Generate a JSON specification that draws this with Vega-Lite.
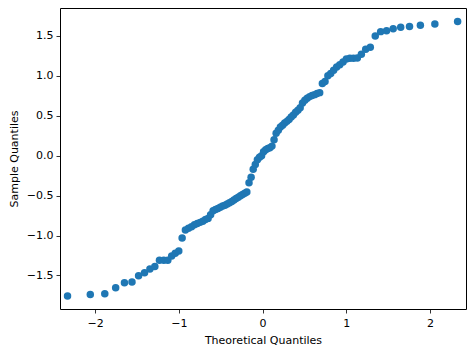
{
  "$schema": "https://vega.github.io/schema/vega-lite/v6.json",
  "autosize": "none",
  "width": 406,
  "height": 301,
  "padding": {"left": 60, "top": 8, "right": 8, "bottom": 44},
  "background": "white",
  "config": {
    "view": {"stroke": "#000", "strokeWidth": 1},
    "axis": {
      "grid": false,
      "domain": false,
      "tickColor": "#000",
      "tickSize": 4,
      "tickWidth": 0.8,
      "labelFont": "DejaVu Sans",
      "labelFontSize": 11,
      "labelColor": "#000",
      "titleFont": "DejaVu Sans",
      "titleFontSize": 11,
      "titleFontWeight": "normal",
      "titleColor": "#000",
      "labelPadding": 3
    }
  },
  "data": {
    "values": [
      {"t": -2.330, "s": -1.758}, {"t": -2.058, "s": -1.737}, {"t": -1.885, "s": -1.730}, {"t": -1.755, "s": -1.654},
      {"t": -1.650, "s": -1.590}, {"t": -1.560, "s": -1.583}, {"t": -1.481, "s": -1.504}, {"t": -1.410, "s": -1.466},
      {"t": -1.346, "s": -1.420}, {"t": -1.287, "s": -1.387}, {"t": -1.232, "s": -1.310}, {"t": -1.180, "s": -1.310},
      {"t": -1.132, "s": -1.310}, {"t": -1.086, "s": -1.257}, {"t": -1.043, "s": -1.223}, {"t": -1.001, "s": -1.194},
      {"t": -0.961, "s": -1.030}, {"t": -0.922, "s": -0.930}, {"t": -0.885, "s": -0.910}, {"t": -0.849, "s": -0.890},
      {"t": -0.814, "s": -0.865}, {"t": -0.780, "s": -0.850}, {"t": -0.746, "s": -0.835}, {"t": -0.714, "s": -0.820},
      {"t": -0.682, "s": -0.800}, {"t": -0.651, "s": -0.785}, {"t": -0.621, "s": -0.740}, {"t": -0.591, "s": -0.690},
      {"t": -0.562, "s": -0.675}, {"t": -0.533, "s": -0.660}, {"t": -0.505, "s": -0.645}, {"t": -0.477, "s": -0.630},
      {"t": -0.449, "s": -0.620}, {"t": -0.422, "s": -0.605}, {"t": -0.395, "s": -0.590}, {"t": -0.368, "s": -0.575},
      {"t": -0.342, "s": -0.555}, {"t": -0.316, "s": -0.535}, {"t": -0.290, "s": -0.520}, {"t": -0.264, "s": -0.500},
      {"t": -0.239, "s": -0.485}, {"t": -0.213, "s": -0.470}, {"t": -0.188, "s": -0.455}, {"t": -0.162, "s": -0.340},
      {"t": -0.137, "s": -0.270}, {"t": -0.112, "s": -0.170}, {"t": -0.087, "s": -0.110}, {"t": -0.062, "s": -0.050},
      {"t": -0.037, "s": -0.020}, {"t": -0.012, "s": 0.000}, {"t": 0.012, "s": 0.050}, {"t": 0.037, "s": 0.075},
      {"t": 0.062, "s": 0.090}, {"t": 0.087, "s": 0.100}, {"t": 0.112, "s": 0.120}, {"t": 0.137, "s": 0.200},
      {"t": 0.162, "s": 0.280}, {"t": 0.188, "s": 0.320}, {"t": 0.213, "s": 0.360}, {"t": 0.239, "s": 0.380},
      {"t": 0.264, "s": 0.410}, {"t": 0.290, "s": 0.430}, {"t": 0.316, "s": 0.455}, {"t": 0.342, "s": 0.485},
      {"t": 0.368, "s": 0.510}, {"t": 0.395, "s": 0.545}, {"t": 0.422, "s": 0.570}, {"t": 0.449, "s": 0.600},
      {"t": 0.477, "s": 0.660}, {"t": 0.505, "s": 0.695}, {"t": 0.533, "s": 0.720}, {"t": 0.562, "s": 0.740},
      {"t": 0.591, "s": 0.755}, {"t": 0.621, "s": 0.765}, {"t": 0.651, "s": 0.780}, {"t": 0.682, "s": 0.790},
      {"t": 0.714, "s": 0.905}, {"t": 0.746, "s": 0.930}, {"t": 0.780, "s": 1.000}, {"t": 0.814, "s": 1.030},
      {"t": 0.849, "s": 1.070}, {"t": 0.885, "s": 1.110}, {"t": 0.922, "s": 1.140}, {"t": 0.961, "s": 1.175},
      {"t": 1.001, "s": 1.210}, {"t": 1.043, "s": 1.220}, {"t": 1.086, "s": 1.220}, {"t": 1.132, "s": 1.225},
      {"t": 1.180, "s": 1.270}, {"t": 1.232, "s": 1.333}, {"t": 1.287, "s": 1.358}, {"t": 1.346, "s": 1.500},
      {"t": 1.410, "s": 1.554}, {"t": 1.481, "s": 1.566}, {"t": 1.560, "s": 1.590}, {"t": 1.650, "s": 1.610},
      {"t": 1.755, "s": 1.617}, {"t": 1.885, "s": 1.634}, {"t": 2.058, "s": 1.650}, {"t": 2.330, "s": 1.680}
    ]
  },
  "mark": {"type": "point", "shape": "circle", "filled": true, "color": "#1f77b4", "opacity": 1, "size": 56},
  "encoding": {
    "x": {
      "field": "t", "type": "quantitative",
      "scale": {"domain": [-2.42, 2.43], "nice": false, "zero": false},
      "axis": {"values": [-2, -1, 0, 1, 2], "format": "d", "title": "Theoretical Quantiles", "labelPadding": 4, "titlePadding": 6}
    },
    "y": {
      "field": "s", "type": "quantitative",
      "scale": {"domain": [-1.92, 1.85], "nice": false, "zero": false},
      "axis": {"values": [-1.5, -1, -0.5, 0, 0.5, 1, 1.5], "format": ".1f", "title": "Sample Quantiles", "titlePadding": 7}
    }
  }
}
